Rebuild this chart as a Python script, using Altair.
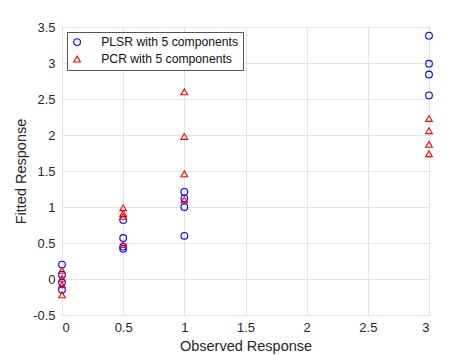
import altair as alt
import pandas as pd

series_names = ["PLSR with 5 components", "PCR with 5 components"]

plsr_x = [0, 0, 0, 0, 0.5, 0.5, 0.5, 0.5, 1, 1, 1, 1, 3, 3, 3, 3]
plsr_y = [0.20, 0.06, -0.05, -0.15, 0.82, 0.57, 0.45, 0.42, 1.21, 1.12, 1.00, 0.60, 3.38, 2.99, 2.84, 2.55]

pcr_x = [0, 0, 0, 0, 0.5, 0.5, 0.5, 0.5, 1, 1, 1, 1, 3, 3, 3, 3]
pcr_y = [0.12, 0.01, -0.08, -0.22, 0.99, 0.91, 0.87, 0.48, 2.60, 1.98, 1.46, 1.10, 2.23, 2.06, 1.87, 1.74]

x_ticks = [0, 0.5, 1, 1.5, 2, 2.5, 3]
y_ticks = [-0.5, 0, 0.5, 1, 1.5, 2, 2.5, 3, 3.5]

df = pd.concat([
    pd.DataFrame({"obs": plsr_x, "fit": plsr_y, "series": series_names[0]}),
    pd.DataFrame({"obs": pcr_x, "fit": pcr_y, "series": series_names[1]}),
])

FONT = "Liberation Sans"
PAD_EXPR = "datum.label + '\u00a0\u00a0\u00a0\u00a0\u00a0\u00a0\u00a0'"

chart = alt.Chart(df).mark_point(filled=False, size=45, strokeWidth=1.1, opacity=1).encode(
    x=alt.X("obs:Q", title="Observed Response",
            scale=alt.Scale(domain=[0, 3], nice=False, zero=False),
            axis=alt.Axis(values=x_ticks, labelExpr="toString(datum.value)")),
    y=alt.Y("fit:Q", title="Fitted Response",
            scale=alt.Scale(domain=[-0.5, 3.5], nice=False, zero=False),
            axis=alt.Axis(values=y_ticks, labelExpr="toString(datum.value)")),
    color=alt.Color("series:N", sort=series_names,
                    scale=alt.Scale(domain=series_names, range=["#0000ff", "#ff0000"]),
                    legend=alt.Legend(title=None, orient="top-left", labelExpr=PAD_EXPR)),
    shape=alt.Shape("series:N", sort=series_names,
                    scale=alt.Scale(domain=series_names, range=["circle", "triangle-up"]),
                    legend=alt.Legend(title=None, orient="top-left", labelExpr=PAD_EXPR)),
).properties(
    width=367, height=288,
    autosize=alt.AutoSizeParams(type="none"),
    padding={"left": 62, "top": 27, "right": 45, "bottom": 40},
).configure_view(
    stroke="#555555", strokeWidth=1
).configure_axis(
    grid=True, gridColor="#e3e3e3", gridWidth=1,
    domain=False, ticks=False,
    labelFont=FONT, labelFontSize=13, labelColor="#262626",
    titleFont=FONT, titleFontSize=14.5, titleFontWeight="normal", titleColor="#262626",
).configure_axisX(
    labelPadding=6, titlePadding=5
).configure_axisY(
    labelPadding=7, titlePadding=4
).configure_legend(
    strokeColor="#555555", fillColor="white", padding=4, offset=5,
    labelFont=FONT, labelFontSize=12.2, labelColor="#111111",
    symbolSize=45, symbolStrokeWidth=1.1, rowPadding=4, cornerRadius=0,
    symbolOffset=0, labelOffset=18, labelLimit=300,
)

chart.save("out.html", embed_options={"renderer": "svg", "actions": False})
